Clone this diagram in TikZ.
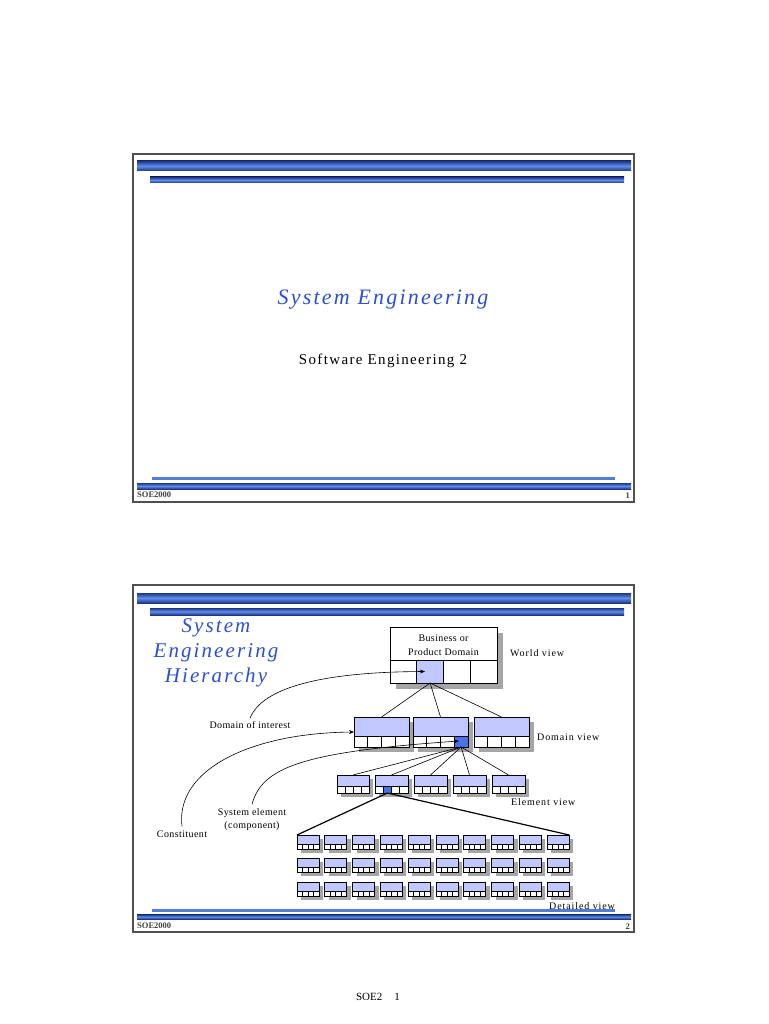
\documentclass[tikz,border=0pt]{standalone}
\usepackage{fontspec}
\setmainfont{Liberation Serif}
\newfontfamily\spacedfont[LetterSpace=10]{Liberation Serif}
\newfontfamily\widefont[LetterSpace=9]{Liberation Serif}
\newfontfamily\midfont[LetterSpace=4]{Liberation Serif}
\usetikzlibrary{arrows.meta}
\definecolor{lightblu}{RGB}{192,200,255}
\definecolor{darkcell}{RGB}{70,115,235}
\definecolor{titleblue}{RGB}{45,80,210}
\definecolor{shadowgray}{RGB}{165,165,165}
\definecolor{barlight}{RGB}{95,140,240}
\definecolor{bardark}{RGB}{30,55,130}
\definecolor{framegray}{RGB}{80,80,80}
\tikzset{
  ubox/.style={draw=black, line width=0.8pt, anchor=north west, inner sep=0pt, outer sep=0pt},
  ucell/.style={draw=black, line width=0.7pt, anchor=south west, inner sep=0pt, outer sep=0pt},
  link/.style={draw=black, line width=0.6pt},
  biglink/.style={draw=black, line width=1.2pt},
  curvearrow/.style={draw=black, line width=0.6pt, -{Stealth[length=5pt,width=4pt]}},
  lbl/.style={inner sep=0pt, font=\widefont\fontsize{10}{12}\selectfont},
  slideframe/.style={draw=framegray, line width=1.3pt},
  foot/.style={inner sep=0pt, font=\fontsize{8.5}{9}\selectfont\bfseries, text=black!75},
}
% name, x, y, w, h, row height, shadow, special cell, special colour ; top fill via \ubtopfill
\def\ubtopfill{lightblu}
\newcommand{\unitbox}[9]{%
  \pgfmathsetmacro\ubcw{#4/4}%
  \fill[shadowgray] ({#2+#7},{#3+#7}) rectangle ({#2+#4+#7},{#3+#5+#7});
  \node[ubox, fill=\ubtopfill, minimum width=#4pt, minimum height=#5pt] (#1) at (#2,#3) {};
  \foreach \i in {1,...,4}{%
    \pgfmathsetmacro\ubx{#2+(\i-1)*\ubcw}%
    \ifnum\i=#8\relax\def\ubfill{#9}\else\def\ubfill{white}\fi
    \node[ucell, fill=\ubfill, minimum width=\ubcw pt, minimum height=#6pt] (#1-c\i) at (\ubx,{#3+#5}) {};
  }%
}
\newcommand{\bigbar}[4]{% x1,y1,x2,y2
  \shade[top color=bardark, bottom color=bardark, middle color=barlight] (#1,#2) rectangle (#3,#4);
}
\begin{document}
\begin{tikzpicture}[x=1pt,y=-1pt]
\useasboundingbox (0,0) rectangle (768,1024);
\fill[white] (0,0) rectangle (768,1024);

% ---------- Slide 1 ----------
\draw[slideframe] (133,154) rectangle (634,502);
\bigbar{137}{161}{631}{171}
\bigbar{150}{177}{624}{183}
\fill[barlight!80!bardark] (152,477) rectangle (615,479.5);
\bigbar{137}{483}{631}{489}
\node[inner sep=0pt, text=titleblue, font=\spacedfont\itshape\fontsize{22}{26}\selectfont] (t1) at (383,300) {System Engineering};
\node[inner sep=0pt, font=\widefont\fontsize{15}{17}\selectfont] (t1sub) at (383,361) {Software Engineering 2};
\node[foot, anchor=west] (f1) at (137,494.5) {SOE2000};
\node[foot, anchor=east] (p1) at (630,495.5) {1};

% ---------- Slide 2 ----------
\draw[slideframe] (133,585) rectangle (634,932);
\bigbar{137}{593}{631}{603}
\bigbar{150}{608}{624}{615}
\fill[barlight!80!bardark] (152,909) rectangle (615,911.5);
\bigbar{137}{914.5}{631}{919}
\node[foot, anchor=west] (f2) at (137,926) {SOE2000};
\node[foot, anchor=east] (p2) at (630,927) {2};

\node[inner sep=0pt, text=titleblue, align=center, font=\spacedfont\itshape\fontsize{21}{25}\selectfont] (t2) at (216,653) {System\\Engineering\\Hierarchy};

% top box (white header)
\def\ubtopfill{white}
\unitbox{top}{390}{627}{107}{56}{23}{6}{2}{lightblu}
\def\ubtopfill{lightblu}
\node[inner sep=0pt, align=center, font=\midfont\fontsize{10}{14}\selectfont] (toptxt) at (443.5,645) {Business or\\Product Domain};
\node[lbl, anchor=west] (world) at (510,653) {World view};

% domain row
\unitbox{d1}{354}{717}{55}{30}{11}{5}{0}{white}
\unitbox{d2}{413}{717}{55}{30}{11}{5}{4}{darkcell}
\unitbox{d3}{474}{717}{55}{30}{11}{5}{0}{white}
\node[lbl, anchor=west] (domv) at (537,737) {Domain view};

% element row
\unitbox{e1}{337}{775}{32}{18}{7}{4}{0}{white}
\unitbox{e2}{375}{775}{33}{18}{7}{4}{2}{darkcell}
\unitbox{e3}{414}{775}{33}{18}{7}{4}{0}{white}
\unitbox{e4}{453}{775}{33}{18}{7}{4}{0}{white}
\unitbox{e5}{492}{775}{33}{18}{7}{4}{0}{white}
\node[lbl, anchor=west] (elv) at (511,802) {Element view};

% detailed rows
\foreach \r/\yy in {1/835,2/858,3/882}{
  \foreach \c in {1,...,10}{
    \pgfmathsetmacro\xx{297+(\c-1)*27.8}
    \unitbox{dd-\r-\c}{\xx}{\yy}{22}{14}{5}{4}{0}{white}
  }
}
\node[lbl, anchor=west] (detv) at (549,906) {Detailed view};

% connectors
\draw[link] (top-c2.south) -- (d1.north);
\draw[link] (top-c2.south) -- (d2.north);
\draw[link] (top-c2.south) -- (d3.north);
\foreach \k in {1,...,5}{
  \draw[link] (d2-c4.south) -- (e\k.north);
}
\draw[biglink] (e2-c2.south) -- (dd-1-1.north west);
\draw[biglink] (e2-c2.south) -- (dd-1-10.north east);

% labels with curved arrows
\node[lbl, font=\midfont\fontsize{10}{12}\selectfont] (doi) at (250,725) {Domain of interest};
\node[lbl, align=center, font=\midfont\fontsize{10}{13}\selectfont] (syse) at (252,819.5) {System element\\(component)};
\node[lbl, font=\midfont\fontsize{10}{12}\selectfont] (const) at (182,834) {Constituent};

\coordinate (doitip) at (425,671.5);
\coordinate (systip) at (459,741);
\draw[curvearrow] ([yshift=3pt]doi.north) .. controls (262,688) and (320,672) .. (doitip);
\draw[curvearrow] ([yshift=4pt]const.north) .. controls (175,770) and (250,733) .. (d1.west);
\draw[curvearrow] ([yshift=4pt]syse.north) .. controls (262,768) and (300,752) .. (systip);

\node[inner sep=0pt, font=\fontsize{11}{13}\selectfont] (pg) at (378,997) {SOE2\hspace{1.1em}1};
\end{tikzpicture}
\end{document}
